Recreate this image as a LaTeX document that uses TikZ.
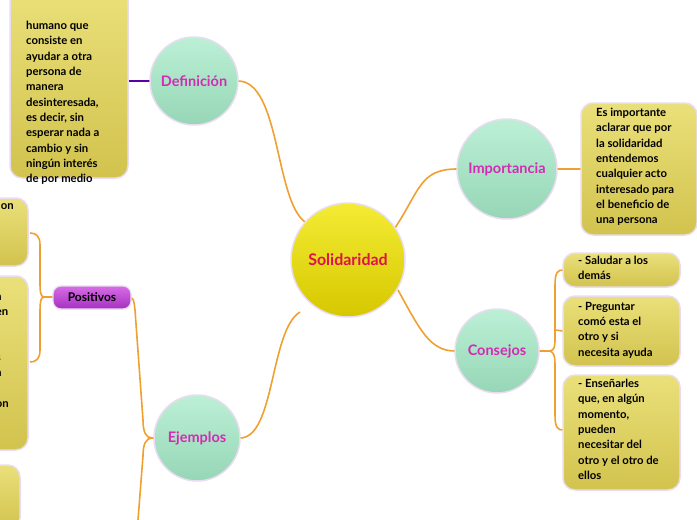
\documentclass[tikz,border=0pt]{standalone}
\usepackage{fontspec}
\setmainfont{Lato}
\definecolor{ytop}{HTML}{EAE07A}
\definecolor{ybot}{HTML}{D2C34E}
\definecolor{mtop}{HTML}{BCF0D6}
\definecolor{mbot}{HTML}{96D6B6}
\definecolor{stop}{HTML}{F4EC34}
\definecolor{sbot}{HTML}{D6C800}
\definecolor{orng}{HTML}{F0A030}
\definecolor{mag}{HTML}{D42AB4}
\definecolor{crim}{HTML}{E0104A}
\definecolor{brd}{HTML}{EADCF0}
\definecolor{ptop}{HTML}{D86CE6}
\definecolor{pbot}{HTML}{A530C0}
\begin{document}
\begin{tikzpicture}[x=1pt,y=-1pt,
  con/.style={draw=orng,line width=1.6pt},
  circ/.style={circle,draw=brd,line width=1.5pt,top color=mtop,bottom color=mbot,font=\bfseries\fontsize{14.5}{16}\selectfont,text=mag},
  ybox/.style={rounded corners=12pt,draw=brd,line width=1.5pt,top color=ytop,bottom color=ybot},
  btxt/.style={font=\bfseries\fontsize{11.3}{15.3}\selectfont,align=left,anchor=north west,inner sep=0pt}]
\useasboundingbox (0,0) rectangle (697,520);
% connectors first
\coordinate (ed) at (138,520);
\coordinate (b1) at (30,233); \coordinate (b2) at (30,362);
\draw[con] (238,81) .. controls (280,81) and (275,200) .. (305,222);
\draw[con] (395,228) .. controls (420,190) and (420,169) .. (457,169);
\draw[con] (398,290) .. controls (420,330) and (430,351) .. (455,351);
\draw[con] (300,312) .. controls (270,330) and (275,438) .. (240,438);
\draw[con] (557,169) -- (581,169);
\draw[line width=1.6pt,violet!70!blue] (128,81) -- (150,81);
\draw[con] (539,351) -- (548,351);
\draw[con] (548,351) .. controls (556,351) and (555,345) .. (555,330) -- (555,285) .. controls (555,272) and (558,270) .. (563,270);
\draw[con] (555,330) -- (563,331);
\draw[con] (548,351) .. controls (556,351) and (555,360) .. (555,375) -- (555,415) .. controls (555,428) and (558,430) .. (563,430);
\draw[con] (154,438) -- (152,438) .. controls (146,438) and (143,432) .. (143,420) -- (135,310) .. controls (134,300) and (133,298) .. (131,298);
\draw[con] (152,438) .. controls (146,438) and (143,444) .. (143,456) -- (ed);
\draw[con] (53,297) -- (44,297) .. controls (40,297) and (40,290) .. (40,280) -- (40,245) .. controls (40,236) and (36,233) .. (b1);
\draw[con] (44,297) .. controls (40,297) and (40,305) .. (40,315) -- (40,350) .. controls (40,359) and (36,362) .. (b2);
% central
\node[circle,minimum size=114pt,draw=brd,line width=1.5pt,top color=stop,bottom color=sbot,font=\bfseries\fontsize{16}{18}\selectfont,text=crim] (sol) at (348,260) {Solidaridad};
\node[circ,minimum size=88pt] (def) at (194,81) {Definición};
\node[circ,minimum size=100pt] (imp) at (507,169) {Importancia};
\node[circ,minimum size=84pt] (con) at (497,351) {Consejos};
\node[circ,minimum size=86pt] (ej) at (197,438) {Ejemplos};
% boxes
\path[ybox] (10,-12) rectangle (128,178);
\node[btxt] (deft) at (26,21) {humano que\\consiste en\\ayudar a otra\\persona de\\manera\\desinteresada,\\es decir, sin\\esperar nada a\\cambio y sin\\ningún interés\\de por medio};
\path[ybox] (581,103) rectangle (697,235);
\node[btxt] (impt) at (596,108) {Es importante\\aclarar que por\\la solidaridad\\entendemos\\cualquier acto\\interesado para\\el beneficio de\\una persona};
\path[ybox] (563,253) rectangle (680,287);
\node[btxt] (c1) at (578,256) {- Saludar a los\\demás};
\path[ybox] (563,296) rectangle (680,366);
\node[btxt] (c2) at (578,302) {- Preguntar\\comó esta el\\otro y si\\necesita ayuda};
\path[ybox] (563,375) rectangle (680,490);
\node[btxt] (c3) at (578,379) {- Enseñarles\\que, en algún\\momento,\\pueden\\necesitar del\\otro y el otro de\\ellos};
\path[ybox] (-14,198) rectangle (28,266);
\node[btxt,anchor=north east] at (14,203) {on};
\path[ybox] (-14,276) rectangle (28,450);
\node[btxt,anchor=north east] at (9,294) {a\\en\\\\\\s\\a\\\\on};
\path[ybox] (-14,465) rectangle (20,530);
\node[rounded corners=8pt,draw=brd,line width=1.2pt,top color=ptop,bottom color=pbot,minimum width=78pt,minimum height=23pt,font=\bfseries\fontsize{12}{14}\selectfont] (pos) at (92,297.5) {Positivos};
\end{tikzpicture}
\end{document}
